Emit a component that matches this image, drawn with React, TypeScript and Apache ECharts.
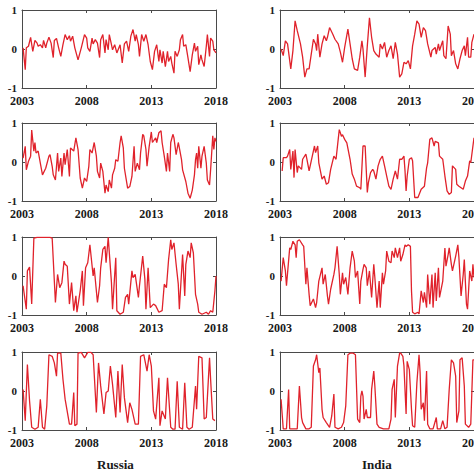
import React, { useEffect, useRef } from "react";
import * as echarts from "echarts";

// x = months since Jan 2003, y = value
const yearTicks = ["2003", "2008", "2013", "2018"];
const countries = ["Russia", "India"];

const russia1 = [[1,0.03],[3,-0.53],[4,0.03],[6,0.07],[8,0.3],[10,-0.06],[12,0.22],[14,0.15],[15,0.07],[17,0.11],[19,0.03],[20,0.22],[22,0.03],[23,0.15],[25,0.3],[27,0.15],[29,-0.22],[30,0.22],[32,0.27],[34,0.03],[36,-0.19],[38,0.11],[40,0.37],[42,0.24],[44,0.34],[45,0.2],[47,0.33],[49,0.03],[52,-0.28],[55,0.03],[58,0.37],[60,0.28],[61,0.03],[63,-0.06],[65,0.28],[66,0.13],[68,0.24],[70,0.15],[72,-0.22],[73,0.24],[75,0.37],[77,-0.1],[78,0.24],[80,-0.02],[81,0.37],[83,0.11],[84,-0.02],[86,0.11],[88,-0.1],[91,0.11],[93,-0.36],[95,0.13],[97,0.2],[99,-0.06],[101,0.33],[103,0.5],[105,0.2],[106,0.37],[108,0.11],[109,-0.19],[111,0.37],[113,0.2],[115,0.37],[117,0.11],[119,-0.32],[121,-0.53],[123,-0.06],[125,0.11],[127,-0.32],[128,-0.02],[130,-0.36],[131,-0.06],[133,-0.45],[135,-0.06],[136,-0.32],[138,-0.19],[139,-0.36],[141,-0.62],[142,-0.06],[144,-0.19],[146,-0.02],[147,0.24],[149,0.37],[150,0.07],[152,0.11],[154,-0.23],[156,-0.58],[158,-0.15],[160,0.15],[161,-0.06],[163,0.07],[164,-0.4],[166,-0.15],[167,-0.28],[169,-0.45],[171,0.07],[172,0.37],[174,-0.19],[175,0.28],[177,0.2],[178,-0.02],[180,-0.1]];

const russia2 = [[1,0.1],[3,0.4],[4,-0.2],[6,0.02],[8,0.15],[9,0.82],[11,0.28],[12,0.5],[13,0.23],[15,0.28],[17,-0.03],[19,-0.33],[22,-0.16],[25,0.15],[26,0.19],[28,-0.11],[29,-0.33],[31,-0.46],[33,0.23],[34,-0.24],[36,0.1],[37,-0.37],[39,0.23],[40,-0.07],[42,0.32],[44,-0.37],[45,0.36],[48,0.28],[50,0.62],[52,0.32],[54,-0.41],[56,-0.67],[58,-0.41],[60,-0.5],[62,-0.11],[63,0.32],[65,0.23],[67,0.5],[69,0.15],[70,-0.24],[72,-0.41],[73,-0.03],[75,-0.24],[77,-0.8],[78,-0.59],[80,-0.76],[81,-0.46],[83,-0.67],[84,-0.33],[86,-0.16],[87,0.06],[89,0.02],[91,0.5],[92,0.67],[94,0.36],[95,-0.16],[98,-0.67],[100,-0.63],[102,-0.37],[104,0.4],[105,-0.24],[107,-0.03],[109,-0.2],[110,0.23],[112,0.71],[113,0.67],[115,0.32],[116,-0.11],[118,0.4],[120,0.77],[121,0.5],[124,0.62],[125,0.5],[127,0.75],[129,0.8],[130,0.5],[132,0.15],[134,-0.24],[135,0.23],[137,-0.24],[138,0.5],[140,0.71],[141,0.62],[143,0.19],[145,0.5],[146,0.36],[148,0.06],[149,-0.2],[152,-0.5],[154,-0.8],[156,-0.93],[158,-0.72],[160,-0.33],[161,0.06],[162,0.23],[163,-0.16],[164,0.4],[166,-0.16],[167,0.15],[169,0.4],[171,-0.03],[172,-0.46],[174,-0.59],[175,-0.2],[177,0.67],[178,0.32],[179,0.62],[180,0.53]];

const russia3 = [[1,-0.25],[4,-0.85],[5,0.13],[7,0.23],[9,-0.72],[11,0.97],[14,0.99],[26,0.99],[28,0.97],[31,-0.68],[33,0.04],[35,-0.3],[37,-0.17],[39,0.38],[40,0.3],[42,0.25],[44,-0.72],[46,-0.17],[48,-0.89],[50,-0.51],[51,-0.93],[54,-0.38],[56,0.13],[57,-0.76],[59,0.21],[61,0.34],[63,0.8],[66,0.0],[67,0.21],[70,-0.68],[72,-0.25],[73,0.21],[75,0.68],[77,0.76],[78,0.34],[80,0.99],[83,-0.17],[84,-0.85],[87,0.47],[88,-0.89],[91,-0.98],[94,-0.93],[96,-0.55],[98,-0.47],[99,-0.72],[102,0.13],[103,-0.04],[105,0.04],[108,-0.55],[109,-0.25],[112,0.51],[114,-0.08],[115,-0.85],[117,0.21],[119,-0.81],[122,-0.72],[124,-0.76],[127,-0.93],[130,-0.89],[132,-0.21],[134,-0.3],[136,0.42],[138,0.93],[139,0.68],[141,0.85],[143,0.3],[145,-0.21],[146,-0.85],[149,0.55],[151,-0.51],[152,0.3],[154,0.64],[156,0.47],[157,0.85],[159,0.59],[161,-0.47],[163,-0.72],[164,-0.93],[167,-0.98],[171,-0.93],[173,-0.98],[175,-0.89],[177,-0.93],[179,-0.38],[180,0.0]];

const russia4 = [[1,0.04],[3,-0.76],[5,0.68],[7,-0.25],[9,-0.93],[12,-0.98],[15,-0.93],[17,-0.21],[19,-0.93],[21,-0.98],[23,-0.38],[25,0.93],[28,0.89],[30,0.72],[32,0.38],[33,0.97],[36,0.97],[38,0.3],[40,-0.21],[44,-0.85],[46,-0.85],[48,-0.04],[49,-0.89],[51,-0.85],[52,0.97],[55,0.99],[58,0.85],[61,0.99],[64,0.99],[66,0.93],[69,-0.55],[71,0.72],[73,0.13],[76,-0.59],[78,-0.04],[80,0.0],[82,0.64],[84,0.17],[87,-0.68],[89,0.51],[91,-0.55],[93,0.68],[95,-0.17],[98,-0.81],[100,-0.3],[102,-0.47],[105,-0.85],[108,-0.85],[110,0.89],[113,0.93],[116,0.51],[118,0.93],[120,0.64],[122,-0.51],[124,-0.72],[127,0.34],[128,-0.89],[130,-0.51],[133,-0.72],[135,0.34],[138,-0.93],[140,-0.98],[142,-0.98],[144,0.25],[146,-0.93],[149,-0.98],[151,0.21],[153,-0.93],[155,-0.98],[158,-0.93],[161,0.13],[162,-0.47],[164,0.89],[167,0.85],[169,-0.72],[171,-0.68],[174,0.85],[175,0.3],[177,-0.72],[179,-0.76]];

const india1 = [[1,0.0],[3,-0.17],[5,0.21],[7,0.13],[10,-0.51],[12,-0.04],[14,0.72],[16,0.47],[19,0.13],[21,-0.21],[23,-0.72],[25,-0.51],[27,-0.51],[29,-0.13],[31,0.25],[33,0.13],[34,-0.04],[35,0.38],[37,-0.21],[39,0.13],[41,0.34],[43,0.21],[44,0.3],[46,0.55],[49,0.38],[51,0.25],[54,0.13],[56,-0.08],[58,-0.34],[60,0.04],[63,0.51],[65,0.13],[67,-0.25],[69,-0.51],[72,-0.55],[74,-0.21],[76,0.21],[77,0.0],[79,-0.72],[81,0.08],[83,0.8],[85,0.3],[87,-0.04],[89,-0.13],[92,-0.21],[93,0.13],[95,0.0],[97,0.17],[99,-0.21],[101,-0.04],[103,0.08],[105,-0.25],[107,0.17],[109,-0.13],[111,-0.72],[113,-0.64],[115,-0.34],[117,-0.38],[119,-0.3],[121,-0.51],[123,0.08],[125,0.38],[127,0.72],[129,0.64],[131,0.3],[133,0.55],[135,0.47],[137,0.13],[140,-0.21],[141,-0.04],[144,0.04],[145,-0.13],[147,0.13],[148,-0.04],[151,0.21],[152,-0.17],[154,-0.25],[156,0.59],[158,0.38],[159,-0.17],[161,-0.04],[163,-0.38],[165,-0.51],[167,-0.25],[169,-0.04],[171,0.08],[172,-0.17],[174,0.3],[175,-0.21],[177,-0.21],[178,0.17],[180,0.38]];

const india2 = [[2,-0.23],[3,0.11],[6,0.11],[7,0.15],[9,0.32],[10,-0.19],[12,0.28],[13,-0.4],[14,0.32],[16,-0.27],[17,-0.1],[20,-0.19],[21,0.07],[24,0.2],[25,0.07],[27,-0.23],[29,0.03],[32,0.41],[33,0.24],[35,0.41],[36,-0.02],[39,-0.44],[41,-0.36],[43,-0.57],[45,-0.53],[47,-0.19],[50,0.15],[52,0.07],[54,0.58],[55,0.83],[57,0.66],[58,0.7],[60,0.58],[62,0.49],[65,0.07],[67,-0.31],[69,-0.44],[71,-0.62],[74,-0.66],[75,-0.7],[77,0.41],[79,0.41],[81,-0.78],[82,-0.53],[84,-0.27],[86,-0.19],[87,-0.23],[89,-0.44],[91,-0.1],[93,0.07],[95,0.15],[97,-0.1],[99,-0.36],[101,-0.62],[103,-0.7],[105,-0.44],[107,-0.23],[109,-0.44],[111,0.07],[113,0.07],[115,0.15],[116,-0.23],[117,-0.74],[118,-0.36],[120,0.07],[122,0.11],[123,0.03],[125,-0.91],[128,-0.91],[131,-0.7],[134,-0.62],[136,-0.15],[137,-0.02],[139,0.58],[141,0.62],[143,0.41],[144,0.53],[147,0.49],[148,0.15],[151,0.07],[153,-0.36],[155,-0.74],[157,-0.83],[159,-0.78],[160,-0.1],[163,-0.19],[164,-0.57],[166,-0.62],[168,-0.66],[170,-0.7],[172,-0.49],[174,-0.36],[176,0.03],[177,-0.02],[179,0.41],[180,0.62]];

const india3 = [[1,-0.13],[3,0.47],[5,0.13],[6,-0.25],[9,0.72],[10,0.68],[12,0.89],[14,0.8],[15,0.47],[16,0.89],[18,0.93],[21,0.8],[22,0.76],[24,-0.21],[25,0.21],[27,-0.47],[28,-0.76],[31,-0.59],[33,-0.81],[34,-0.68],[36,-0.13],[39,0.21],[40,-0.21],[42,0.04],[44,-0.51],[45,-0.72],[47,-0.34],[50,0.04],[51,0.21],[53,0.76],[55,0.04],[56,-0.47],[58,0.08],[59,-0.21],[61,-0.04],[63,-0.47],[65,0.21],[67,0.64],[69,0.38],[70,-0.04],[72,0.13],[74,-0.72],[75,-0.13],[77,0.17],[78,0.3],[80,0.21],[81,-0.25],[83,0.13],[85,-0.55],[87,0.3],[88,-0.04],[90,-0.81],[92,-0.13],[93,-0.81],[95,0.08],[96,-0.21],[98,0.13],[99,0.64],[101,0.38],[103,0.34],[104,0.64],[106,0.47],[107,0.72],[109,0.47],[111,0.72],[112,0.38],[114,0.55],[116,0.8],[117,0.76],[119,0.8],[121,0.76],[122,-0.38],[123,-0.93],[125,-0.97],[128,-0.93],[129,-0.97],[131,-0.38],[133,-0.68],[134,-0.42],[136,-0.81],[137,0.04],[139,-0.72],[141,0.04],[142,-0.81],[144,0.08],[145,-0.64],[147,0.21],[148,-0.55],[151,-0.13],[153,0.72],[154,0.25],[156,0.55],[157,0.72],[159,0.3],[160,0.13],[163,0.51],[165,0.8],[166,0.47],[168,-0.51],[170,0.04],[171,0.42],[173,-0.72],[174,-0.85],[176,0.13],[178,-0.13],[179,0.3],[180,-0.04]];

const india4 = [[1,-0.21],[3,-0.97],[6,-0.97],[8,0.04],[9,-0.97],[13,-0.97],[16,-0.97],[18,0.13],[20,-0.68],[21,-0.81],[24,-0.97],[27,-0.97],[29,-0.93],[31,0.64],[33,0.8],[34,0.93],[36,0.47],[37,0.59],[39,-0.47],[40,-0.68],[43,-0.81],[46,-0.93],[48,-0.64],[50,-0.08],[51,-0.93],[54,-0.97],[57,-0.93],[59,-0.81],[61,-0.38],[63,0.93],[65,0.97],[68,0.97],[70,0.93],[72,-0.72],[74,-0.81],[75,-0.13],[76,0.0],[77,-0.13],[78,-0.72],[80,-0.47],[81,-0.68],[84,-0.68],[85,0.04],[87,0.51],[88,0.13],[90,-0.85],[92,-0.93],[96,-0.97],[101,-0.97],[103,-0.72],[104,0.04],[106,0.3],[107,-0.68],[109,0.64],[111,0.97],[112,0.97],[114,0.89],[115,0.64],[117,-0.59],[118,0.76],[120,0.55],[122,-0.47],[123,-0.89],[125,-0.93],[127,0.21],[129,0.93],[130,0.47],[131,-0.47],[133,-0.3],[134,-0.76],[136,0.51],[137,-0.85],[139,-0.97],[142,-0.97],[145,-0.68],[146,-0.97],[149,-0.97],[151,-0.76],[153,-0.97],[155,-0.93],[157,0.04],[159,0.8],[161,0.72],[163,0.38],[164,-0.81],[166,-0.51],[167,0.8],[169,0.85],[171,0.13],[172,-0.85],[175,-0.93],[177,-0.85],[179,0.8],[180,0.8]];

const panels = [russia1, india1, russia2, india2, russia3, india3, russia4, india4];

const FONT = "'Liberation Serif', 'Times New Roman', serif";
const AXIS_COLOR = "#4a4a4a";
const LINE_COLOR = "#e0222b";

export default function App() {
  const ref = useRef<HTMLDivElement>(null);
  useEffect(() => {
    if (!ref.current) return;
    const chart = echarts.init(ref.current, undefined, { renderer: "svg" });
    const tops = [10, 123, 237, 352];
    const lefts = [22, 280];
    const grid: any[] = [];
    const xAxis: any[] = [];
    const yAxis: any[] = [];
    const series: any[] = [];
    panels.forEach((data, i) => {
      const r = Math.floor(i / 2);
      const c = i % 2;
      grid.push({
        left: lefts[c],
        top: tops[r],
        width: 194,
        height: 78,
        containLabel: false,
        outerBoundsMode: "none",
      });
      const common = {
        gridIndex: i,
        axisLine: { show: true, onZero: false, lineStyle: { color: AXIS_COLOR, width: 1 } },
        axisTick: { show: true, inside: true, length: 3, lineStyle: { color: AXIS_COLOR } },
        splitLine: { show: false },
      };
      const labelStyle = {
        fontFamily: FONT,
        fontWeight: "bold",
        color: "#1a1a1a",
        hideOverlap: false,
      };
      xAxis.push({
        ...common,
        type: "value",
        position: "bottom",
        min: 0,
        max: 180,
        interval: 60,
        axisLabel: {
          ...labelStyle,
          fontSize: 12,
          show: true,
          margin: 7,
          showMinLabel: true,
          showMaxLabel: true,
          formatter: (v: number) => yearTicks[Math.round(v / 60)],
        },
      });
      xAxis.push({
        ...common,
        type: "value",
        position: "top",
        min: 0,
        max: 180,
        interval: 60,
        axisLabel: { show: false },
      });
      yAxis.push({
        ...common,
        type: "value",
        position: "left",
        min: -1,
        max: 1,
        interval: 1,
        axisLabel: { ...labelStyle, fontSize: 11, show: true, margin: 5 },
      });
      yAxis.push({
        ...common,
        type: "value",
        position: "right",
        min: -1,
        max: 1,
        interval: 1,
        axisLabel: { show: false },
      });
      series.push({
        type: "line",
        xAxisIndex: i * 2,
        yAxisIndex: i * 2,
        data,
        showSymbol: false,
        symbol: "none",
        smooth: false,
        lineStyle: { color: LINE_COLOR, width: 1.3 },
      });
    });
    chart.setOption({
      animation: false,
      backgroundColor: "#ffffff",
      grid,
      xAxis,
      yAxis,
      series,
      graphic: [
        {
          type: "text",
          left: 117 - 20,
          top: 458,
          style: { text: countries[0], font: `bold 13px ${FONT}`, fill: "#1a1a1a" },
        },
        {
          type: "text",
          left: 378 - 16,
          top: 458,
          style: { text: countries[1], font: `bold 13px ${FONT}`, fill: "#1a1a1a" },
        },
      ],
    });
    return () => chart.dispose();
  }, []);
  return <div ref={ref} style={{ width: 474, height: 474, position: "absolute", left: 0, top: 0 }} />;
}
